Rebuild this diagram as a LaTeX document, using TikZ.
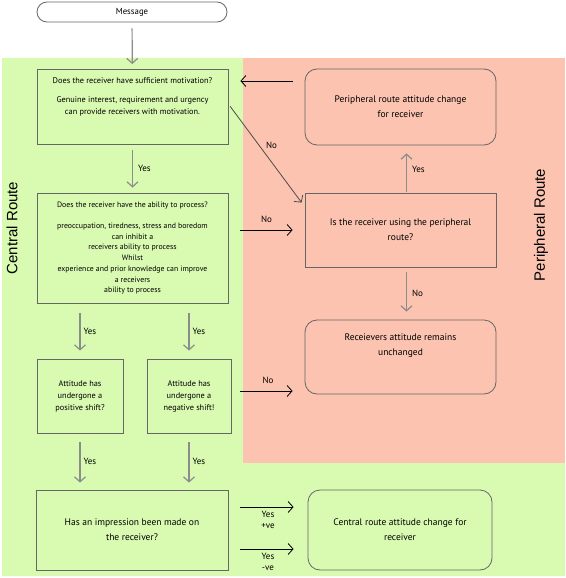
\documentclass[tikz,border=0pt]{standalone}
\usepackage{fontspec}
\setmainfont{PT Sans}
\newfontfamily\routefont{Liberation Sans}
\usetikzlibrary{arrows.meta, positioning}
\definecolor{centralgreen}{RGB}{217,250,177}
\definecolor{periphpink}{RGB}{251,195,176}

\begin{document}
\begin{tikzpicture}[x=1pt, y=-1pt,
    box/.style = {draw=black!60, line width=0.8pt, inner sep=2pt, align=center},
    roundbox/.style = {box, rounded corners=12pt},
    flow/.style = {draw=black!45, line width=1.2pt, -{Straight Barb[length=5pt, width=11pt]}},
    side/.style = {draw=black, line width=0.8pt, -{Straight Barb[length=5pt, width=11pt]}},
    lbl/.style = {font=\fontsize{9}{10}\selectfont, inner sep=1pt},
    tiny/.style = {font=\fontsize{7.8}{10.7}\selectfont},
    small/.style = {font=\fontsize{8.3}{12}\selectfont},
    big/.style = {font=\fontsize{9.5}{15}\selectfont}]
    \useasboundingbox (0,0) rectangle (565,578);

    % route areas
    \fill[centralgreen] (2,58) -- (243,58) -- (243,463) -- (565,463) -- (565,576) -- (2,576) -- cycle;
    \fill[periphpink] (243,58) rectangle (565,463);
    \node[rotate=90, font=\routefont\fontsize{15}{15}\selectfont] (central) at (12,228) {Central Route};
    \node[rotate=90, font=\routefont\fontsize{15}{15}\selectfont] (periph) at (541,225) {Peripheral Route};

    % central route
    \node[box, rounded corners=10pt, minimum width=190pt, minimum height=20pt, font=\fontsize{8.8}{10}\selectfont] (msg) at (132,12) {Message};
    \node[box, minimum width=191pt, minimum height=75pt] (motiv) at (132.5,107) {};
    \node[small] (motivq) at (132.5,81) {Does the receiver have sufficient motivation?};
    \node[small, align=center] (motivtxt) at (132.5,106) {Genuine interest, requirement and urgency\\can provide receivers with motivation.};
    \node[box, tiny, minimum width=191pt, minimum height=110pt] (ability) at (132.5,248) {Does the receiver have the ability to process?\\[10.7pt]preoccupation, tiredness, stress and boredom\\can inhibit a\\receivers ability to process\\Whilst\\experience and prior knowledge can improve\\a receivers\\ability to process};
    \node[box, small, minimum width=86pt, minimum height=74pt] (pos) at (80,396) {Attitude has\\undergone a\\positive shift?};
    \node[box, small, minimum width=84pt, minimum height=74pt] (neg) at (189,396) {Attitude has\\undergone a\\negative shift!};
    \node[box, big, minimum width=192pt, minimum height=80pt] (impr) at (132,530) {Has an impression been made on\\the receiver?};
    \node[roundbox, big, minimum width=184pt, minimum height=80pt] (cchange) at (400,530) {Central route attitude change for\\receiver};

    % peripheral route
    \node[roundbox, big, minimum width=191pt, minimum height=76pt] (pchange) at (400.5,107) {Peripheral route attitude change\\for receiver};
    \node[box, big, minimum width=191pt, minimum height=74pt] (using) at (400.5,230) {Is the receiver using the peripheral\\route?};
    \node[roundbox, minimum width=191pt, minimum height=74pt] (same) at (400.5,357) {};
    \node[big, align=center] (sametxt) at (400.5,346) {Receievers attitude remains\\unchanged};

    % connectors
    \draw[flow, shorten <=6pt, shorten >=5pt] (msg) -- (motiv);
    \draw[flow, shorten <=5pt, shorten >=5pt] (motiv) -- node[lbl, right=4pt] (y1) {Yes} (ability);
    \draw[flow, shorten <=10pt, shorten >=8pt] (ability.south -| pos) -- node[lbl, right=2pt] (y2) {Yes} (pos);
    \draw[flow, shorten <=10pt, shorten >=8pt] (ability.south -| neg) -- node[lbl, right=2pt] (y3) {Yes} (neg);
    \draw[flow, shorten <=9pt, shorten >=7pt] (pos) -- node[lbl, right=2pt] (y4) {Yes} (pos |- impr.north);
    \draw[flow, shorten <=9pt, shorten >=7pt] (neg) -- node[lbl, right=2pt] (y5) {Yes} (neg |- impr.north);
    \draw[side, shorten <=12pt, shorten >=12pt] (pchange.west |- motivq) -- (motiv.east |- motivq);
    \draw[flow, draw=black!70, line width=0.8pt, shorten <=3pt, shorten >=5pt] ([yshift=3pt]motiv.east) -- node[lbl, pos=0.45, above right=0pt and 2pt] (n1) {No} ([yshift=-14pt]using.north west);
    \draw[side, shorten <=12pt, shorten >=12pt] (ability.east |- using) -- node[lbl, above=6pt] (n2) {No} (using.west);
    \draw[flow, shorten <=1pt, shorten >=8pt] ([xshift=6pt]using.north) -- node[lbl, right=4pt] (y6) {Yes} ([xshift=6pt]pchange.south);
    \draw[flow, shorten <=5pt, shorten >=8pt] ([xshift=6pt]using.south) -- node[lbl, right=4pt] (n3) {No} ([xshift=6pt]same.north);
    \draw[side, shorten <=9pt, shorten >=12pt] ([yshift=5pt]neg.east) -- node[lbl, above=6pt] (n4) {No} ([yshift=5pt]neg.east -| same.west);
    \draw[side, shorten <=12pt, shorten >=14pt] ([yshift=23pt]impr.east) -- node[lbl, below=3pt, align=center, font=\fontsize{9}{10.5}\selectfont] (yp) {Yes\\+ve} ([yshift=23pt]impr.east -| cchange.west);
    \draw[side, shorten <=12pt, shorten >=14pt] ([yshift=-19pt]impr.east) -- node[lbl, below=3pt, align=center, font=\fontsize{9}{10.5}\selectfont] (yn) {Yes\\-ve} ([yshift=-19pt]impr.east -| cchange.west);
\end{tikzpicture}
\end{document}
